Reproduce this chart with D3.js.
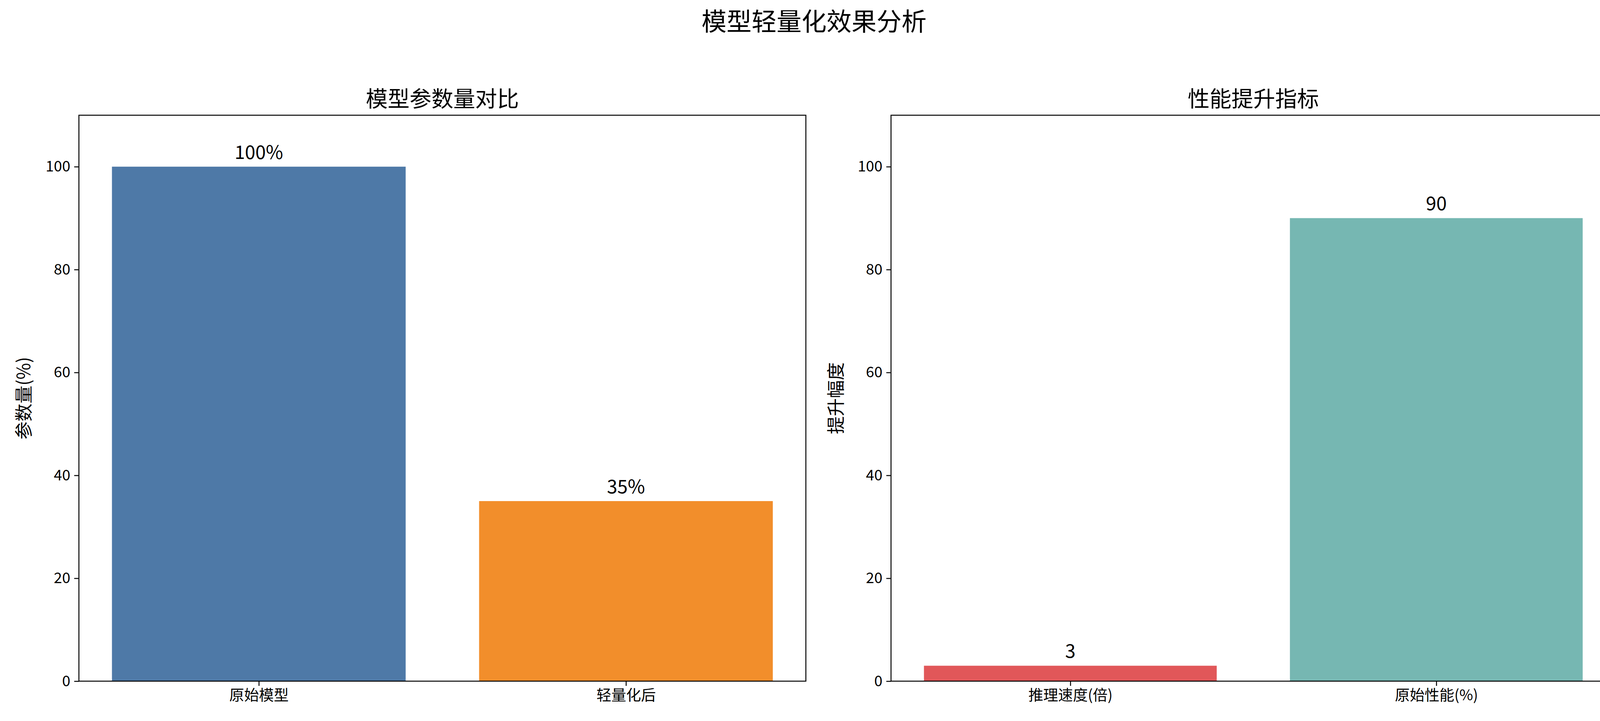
<!DOCTYPE html>
<html><head><meta charset="utf-8">
<script src="https://cdn.jsdelivr.net/npm/d3@7"></script>
<style>body{margin:0;background:#fff}text{font-family:"Noto Sans CJK SC","Noto Sans",sans-serif}</style>
</head><body><svg id="c" width="4168" height="1846"></svg>
<script>
const leftCats=["原始模型","轻量化后"];
const leftVals=[100,35];
const leftLabels=["100%","35%"];
const leftColors=["#4e79a7","#f28e2b"];
const rightCats=["推理速度(倍)","原始性能(%)"];
const rightVals=[3,90];
const rightLabels=["3","90"];
const rightColors=["#e15759","#76b7b2"];
const yTicks=[0,20,40,60,80,100];

const svg=d3.select("#c");
svg.append("text").attr("x",2084).attr("y",78).attr("text-anchor","middle").attr("font-size",64).text("模型轻量化效果分析");

function panel(x0,x1,title,ylabel,cats,vals,labels,colors){
  const top=295,bot=1744;
  const x=d3.scaleLinear().domain([-0.49,1.49]).range([x0,x1]);
  const y=d3.scaleLinear().domain([0,110]).range([bot,top]);
  const g=svg.append("g");
  g.selectAll("rect.b").data(vals).enter().append("rect")
    .attr("x",(d,i)=>x(i-0.4)).attr("width",x(0.8)-x(0))
    .attr("y",d=>y(d)).attr("height",d=>y(0)-y(d)).attr("fill",(d,i)=>colors[i]);
  g.selectAll("text.v").data(vals).enter().append("text")
    .attr("x",(d,i)=>x(i)).attr("y",d=>y(d)-20).attr("text-anchor","middle").attr("font-size",48).text((d,i)=>labels[i]);
  const ya=g.append("g").attr("transform",`translate(${x0},0)`).call(d3.axisLeft(y).tickValues(yTicks).tickSize(12).tickPadding(10));
  const xa=g.append("g").attr("transform",`translate(0,${bot})`).call(d3.axisBottom(x).tickValues([0,1]).tickFormat(i=>cats[i]).tickSize(12).tickPadding(10));
  [ya,xa].forEach(a=>{a.select(".domain").remove();a.selectAll("text").attr("font-size",38).attr("fill","#000");a.selectAll("line").attr("stroke","#000").attr("stroke-width",2.5);});
  g.append("rect").attr("x",x0).attr("y",top).attr("width",x1-x0).attr("height",bot-top).attr("fill","none").attr("stroke","#000").attr("stroke-width",2.5);
  g.append("text").attr("x",(x0+x1)/2).attr("y",top-22).attr("text-anchor","middle").attr("font-size",56).text(title);
  g.append("text").attr("transform",`translate(${x0-125},${(top+bot)/2}) rotate(-90)`).attr("text-anchor","middle").attr("font-size",46).text(ylabel);
}
panel(202,2063,"模型参数量对比","参数量(%)",leftCats,leftVals,leftLabels,leftColors);
panel(2281,4136,"性能提升指标","提升幅度",rightCats,rightVals,rightLabels,rightColors);
</script></body></html>
